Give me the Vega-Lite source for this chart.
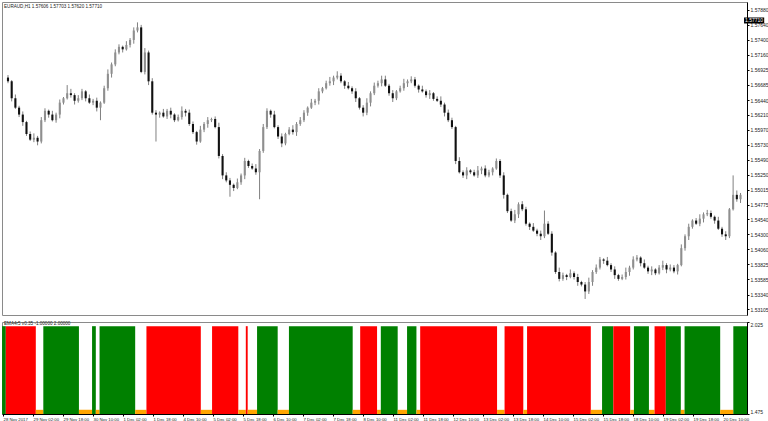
{
"$schema": "https://vega.github.io/schema/vega-lite/v6.json",
"padding": {"left": 1, "top": 1, "right": 0, "bottom": 0},
"background": "white",
"spacing": 4,
"config": {
  "view": {"stroke": "#8a8a8a", "strokeWidth": 1},
  "font": "Liberation Sans",
  "axis": {"labelFont": "Liberation Sans", "labelColor": "#222", "tickColor": "#000", "domainColor": "#000", "grid": false, "title": null, "tickSize": 2, "labelPadding": 1, "labelOverlap": false}
},
"datasets": {
"candles": [
{"i":0,"o":1.5680,"h":1.5684,"l":1.5671,"c":1.5674},
{"i":2,"o":1.5674,"h":1.5676,"l":1.5642,"c":1.5647},
{"i":4,"o":1.5647,"h":1.5653,"l":1.5630,"c":1.5632},
{"i":6,"o":1.5632,"h":1.5635,"l":1.5617,"c":1.5621},
{"i":8,"o":1.5621,"h":1.5626,"l":1.5603,"c":1.5609},
{"i":10,"o":1.5609,"h":1.5611,"l":1.5587,"c":1.5590},
{"i":12,"o":1.5590,"h":1.5594,"l":1.5579,"c":1.5581},
{"i":14,"o":1.5581,"h":1.5591,"l":1.5577,"c":1.5584},
{"i":16,"o":1.5584,"h":1.5587,"l":1.5572,"c":1.5578},
{"i":18,"o":1.5578,"h":1.5617,"l":1.5575,"c":1.5612},
{"i":20,"o":1.5612,"h":1.5631,"l":1.5609,"c":1.5627},
{"i":22,"o":1.5627,"h":1.5629,"l":1.5616,"c":1.5621},
{"i":24,"o":1.5621,"h":1.5627,"l":1.5610,"c":1.5612},
{"i":26,"o":1.5612,"h":1.5624,"l":1.5608,"c":1.5621},
{"i":28,"o":1.5621,"h":1.5645,"l":1.5615,"c":1.5640},
{"i":30,"o":1.5640,"h":1.5649,"l":1.5637,"c":1.5647},
{"i":32,"o":1.5647,"h":1.5668,"l":1.5645,"c":1.5655},
{"i":34,"o":1.5655,"h":1.5662,"l":1.5648,"c":1.5652},
{"i":36,"o":1.5652,"h":1.5655,"l":1.5637,"c":1.5643},
{"i":38,"o":1.5643,"h":1.5652,"l":1.5640,"c":1.5647},
{"i":40,"o":1.5647,"h":1.5662,"l":1.5644,"c":1.5658},
{"i":42,"o":1.5658,"h":1.5660,"l":1.5642,"c":1.5647},
{"i":44,"o":1.5647,"h":1.5653,"l":1.5638,"c":1.5640},
{"i":46,"o":1.5640,"h":1.5646,"l":1.5636,"c":1.5643},
{"i":48,"o":1.5643,"h":1.5648,"l":1.5626,"c":1.5632},
{"i":50,"o":1.5632,"h":1.5642,"l":1.5612,"c":1.5640},
{"i":52,"o":1.5640,"h":1.5667,"l":1.5638,"c":1.5663},
{"i":54,"o":1.5663,"h":1.5693,"l":1.5659,"c":1.5686},
{"i":56,"o":1.5686,"h":1.5704,"l":1.5680,"c":1.5701},
{"i":58,"o":1.5701,"h":1.5725,"l":1.5698,"c":1.5720},
{"i":60,"o":1.5720,"h":1.5733,"l":1.5717,"c":1.5729},
{"i":62,"o":1.5729,"h":1.5731,"l":1.5720,"c":1.5725},
{"i":64,"o":1.5725,"h":1.5738,"l":1.5723,"c":1.5732},
{"i":66,"o":1.5732,"h":1.5743,"l":1.5728,"c":1.5740},
{"i":68,"o":1.5740,"h":1.5760,"l":1.5734,"c":1.5755},
{"i":70,"o":1.5755,"h":1.5768,"l":1.5752,"c":1.5760},
{"i":72,"o":1.5760,"h":1.5764,"l":1.5687,"c":1.5689},
{"i":74,"o":1.5689,"h":1.5727,"l":1.5685,"c":1.5720},
{"i":76,"o":1.5720,"h":1.5723,"l":1.5668,"c":1.5674},
{"i":78,"o":1.5674,"h":1.5679,"l":1.5621,"c":1.5624},
{"i":80,"o":1.5624,"h":1.5628,"l":1.5578,"c":1.5621},
{"i":82,"o":1.5621,"h":1.5626,"l":1.5616,"c":1.5624},
{"i":84,"o":1.5624,"h":1.5630,"l":1.5616,"c":1.5618},
{"i":86,"o":1.5618,"h":1.5630,"l":1.5614,"c":1.5627},
{"i":88,"o":1.5627,"h":1.5632,"l":1.5615,"c":1.5621},
{"i":90,"o":1.5621,"h":1.5623,"l":1.5609,"c":1.5612},
{"i":92,"o":1.5612,"h":1.5621,"l":1.5610,"c":1.5617},
{"i":94,"o":1.5617,"h":1.5634,"l":1.5613,"c":1.5627},
{"i":96,"o":1.5627,"h":1.5630,"l":1.5618,"c":1.5624},
{"i":98,"o":1.5624,"h":1.5629,"l":1.5603,"c":1.5606},
{"i":100,"o":1.5606,"h":1.5610,"l":1.5590,"c":1.5593},
{"i":102,"o":1.5593,"h":1.5595,"l":1.5573,"c":1.5578},
{"i":104,"o":1.5578,"h":1.5603,"l":1.5576,"c":1.5597},
{"i":106,"o":1.5597,"h":1.5609,"l":1.5593,"c":1.5606},
{"i":108,"o":1.5606,"h":1.5617,"l":1.5600,"c":1.5612},
{"i":110,"o":1.5612,"h":1.5616,"l":1.5609,"c":1.5614},
{"i":112,"o":1.5614,"h":1.5618,"l":1.5599,"c":1.5601},
{"i":114,"o":1.5601,"h":1.5608,"l":1.5551,"c":1.5555},
{"i":116,"o":1.5555,"h":1.5558,"l":1.5518,"c":1.5524},
{"i":118,"o":1.5524,"h":1.5529,"l":1.5513,"c":1.5516},
{"i":120,"o":1.5516,"h":1.5520,"l":1.5490,"c":1.5509},
{"i":122,"o":1.5509,"h":1.5511,"l":1.5499,"c":1.5504},
{"i":124,"o":1.5504,"h":1.5519,"l":1.5502,"c":1.5513},
{"i":126,"o":1.5513,"h":1.5527,"l":1.5509,"c":1.5524},
{"i":128,"o":1.5524,"h":1.5552,"l":1.5518,"c":1.5547},
{"i":130,"o":1.5547,"h":1.5549,"l":1.5536,"c":1.5539},
{"i":132,"o":1.5539,"h":1.5543,"l":1.5533,"c":1.5535},
{"i":134,"o":1.5535,"h":1.5542,"l":1.5525,"c":1.5529},
{"i":136,"o":1.5529,"h":1.5566,"l":1.5486,"c":1.5563},
{"i":138,"o":1.5563,"h":1.5606,"l":1.5560,"c":1.5601},
{"i":140,"o":1.5601,"h":1.5631,"l":1.5598,"c":1.5627},
{"i":142,"o":1.5627,"h":1.5629,"l":1.5616,"c":1.5621},
{"i":144,"o":1.5621,"h":1.5627,"l":1.5599,"c":1.5601},
{"i":146,"o":1.5601,"h":1.5604,"l":1.5582,"c":1.5586},
{"i":148,"o":1.5586,"h":1.5591,"l":1.5569,"c":1.5575},
{"i":150,"o":1.5575,"h":1.5592,"l":1.5572,"c":1.5590},
{"i":152,"o":1.5590,"h":1.5601,"l":1.5588,"c":1.5597},
{"i":154,"o":1.5597,"h":1.5604,"l":1.5589,"c":1.5593},
{"i":156,"o":1.5593,"h":1.5609,"l":1.5587,"c":1.5606},
{"i":158,"o":1.5606,"h":1.5617,"l":1.5603,"c":1.5612},
{"i":160,"o":1.5612,"h":1.5628,"l":1.5609,"c":1.5624},
{"i":162,"o":1.5624,"h":1.5634,"l":1.5619,"c":1.5632},
{"i":164,"o":1.5632,"h":1.5646,"l":1.5630,"c":1.5640},
{"i":166,"o":1.5640,"h":1.5646,"l":1.5636,"c":1.5643},
{"i":168,"o":1.5643,"h":1.5663,"l":1.5637,"c":1.5658},
{"i":170,"o":1.5658,"h":1.5665,"l":1.5655,"c":1.5663},
{"i":172,"o":1.5663,"h":1.5675,"l":1.5661,"c":1.5671},
{"i":174,"o":1.5671,"h":1.5681,"l":1.5667,"c":1.5674},
{"i":176,"o":1.5674,"h":1.5683,"l":1.5668,"c":1.5680},
{"i":178,"o":1.5680,"h":1.5690,"l":1.5677,"c":1.5683},
{"i":180,"o":1.5683,"h":1.5687,"l":1.5671,"c":1.5674},
{"i":182,"o":1.5674,"h":1.5676,"l":1.5662,"c":1.5667},
{"i":184,"o":1.5667,"h":1.5673,"l":1.5661,"c":1.5663},
{"i":186,"o":1.5663,"h":1.5666,"l":1.5654,"c":1.5658},
{"i":188,"o":1.5658,"h":1.5663,"l":1.5641,"c":1.5647},
{"i":190,"o":1.5647,"h":1.5649,"l":1.5629,"c":1.5632},
{"i":192,"o":1.5632,"h":1.5636,"l":1.5618,"c":1.5624},
{"i":194,"o":1.5624,"h":1.5647,"l":1.5620,"c":1.5640},
{"i":196,"o":1.5640,"h":1.5658,"l":1.5634,"c":1.5655},
{"i":198,"o":1.5655,"h":1.5672,"l":1.5652,"c":1.5667},
{"i":200,"o":1.5667,"h":1.5675,"l":1.5664,"c":1.5671},
{"i":202,"o":1.5671,"h":1.5683,"l":1.5666,"c":1.5677},
{"i":204,"o":1.5677,"h":1.5683,"l":1.5665,"c":1.5667},
{"i":206,"o":1.5667,"h":1.5670,"l":1.5651,"c":1.5655},
{"i":208,"o":1.5655,"h":1.5660,"l":1.5641,"c":1.5647},
{"i":210,"o":1.5647,"h":1.5660,"l":1.5644,"c":1.5658},
{"i":212,"o":1.5658,"h":1.5667,"l":1.5656,"c":1.5663},
{"i":214,"o":1.5663,"h":1.5678,"l":1.5659,"c":1.5671},
{"i":216,"o":1.5671,"h":1.5677,"l":1.5665,"c":1.5674},
{"i":218,"o":1.5674,"h":1.5682,"l":1.5671,"c":1.5677},
{"i":220,"o":1.5677,"h":1.5681,"l":1.5664,"c":1.5667},
{"i":222,"o":1.5667,"h":1.5669,"l":1.5656,"c":1.5661},
{"i":224,"o":1.5661,"h":1.5667,"l":1.5656,"c":1.5658},
{"i":226,"o":1.5658,"h":1.5661,"l":1.5648,"c":1.5652},
{"i":228,"o":1.5652,"h":1.5660,"l":1.5646,"c":1.5655},
{"i":230,"o":1.5655,"h":1.5657,"l":1.5643,"c":1.5646},
{"i":232,"o":1.5646,"h":1.5650,"l":1.5641,"c":1.5643},
{"i":234,"o":1.5643,"h":1.5650,"l":1.5633,"c":1.5637},
{"i":236,"o":1.5637,"h":1.5640,"l":1.5618,"c":1.5624},
{"i":238,"o":1.5624,"h":1.5629,"l":1.5609,"c":1.5612},
{"i":240,"o":1.5612,"h":1.5616,"l":1.5598,"c":1.5601},
{"i":242,"o":1.5601,"h":1.5603,"l":1.5542,"c":1.5547},
{"i":244,"o":1.5547,"h":1.5553,"l":1.5527,"c":1.5529},
{"i":246,"o":1.5529,"h":1.5532,"l":1.5520,"c":1.5524},
{"i":248,"o":1.5524,"h":1.5537,"l":1.5518,"c":1.5532},
{"i":250,"o":1.5532,"h":1.5534,"l":1.5526,"c":1.5529},
{"i":252,"o":1.5529,"h":1.5533,"l":1.5522,"c":1.5524},
{"i":254,"o":1.5524,"h":1.5539,"l":1.5520,"c":1.5532},
{"i":256,"o":1.5532,"h":1.5538,"l":1.5526,"c":1.5535},
{"i":258,"o":1.5535,"h":1.5540,"l":1.5521,"c":1.5524},
{"i":260,"o":1.5524,"h":1.5533,"l":1.5521,"c":1.5529},
{"i":262,"o":1.5529,"h":1.5537,"l":1.5524,"c":1.5535},
{"i":264,"o":1.5535,"h":1.5551,"l":1.5533,"c":1.5547},
{"i":266,"o":1.5547,"h":1.5550,"l":1.5520,"c":1.5524},
{"i":268,"o":1.5524,"h":1.5529,"l":1.5487,"c":1.5493},
{"i":270,"o":1.5493,"h":1.5495,"l":1.5464,"c":1.5467},
{"i":272,"o":1.5467,"h":1.5471,"l":1.5450,"c":1.5452},
{"i":274,"o":1.5452,"h":1.5469,"l":1.5448,"c":1.5462},
{"i":276,"o":1.5462,"h":1.5481,"l":1.5456,"c":1.5478},
{"i":278,"o":1.5478,"h":1.5483,"l":1.5467,"c":1.5470},
{"i":280,"o":1.5470,"h":1.5474,"l":1.5444,"c":1.5447},
{"i":282,"o":1.5447,"h":1.5449,"l":1.5437,"c":1.5442},
{"i":284,"o":1.5442,"h":1.5448,"l":1.5434,"c":1.5436},
{"i":286,"o":1.5436,"h":1.5439,"l":1.5427,"c":1.5431},
{"i":288,"o":1.5431,"h":1.5436,"l":1.5421,"c":1.5427},
{"i":290,"o":1.5427,"h":1.5468,"l":1.5424,"c":1.5447},
{"i":292,"o":1.5447,"h":1.5451,"l":1.5429,"c":1.5431},
{"i":294,"o":1.5431,"h":1.5435,"l":1.5396,"c":1.5401},
{"i":296,"o":1.5401,"h":1.5403,"l":1.5367,"c":1.5370},
{"i":298,"o":1.5370,"h":1.5377,"l":1.5355,"c":1.5359},
{"i":300,"o":1.5359,"h":1.5369,"l":1.5356,"c":1.5365},
{"i":302,"o":1.5365,"h":1.5367,"l":1.5357,"c":1.5362},
{"i":304,"o":1.5362,"h":1.5374,"l":1.5360,"c":1.5368},
{"i":306,"o":1.5368,"h":1.5371,"l":1.5358,"c":1.5362},
{"i":308,"o":1.5362,"h":1.5367,"l":1.5348,"c":1.5354},
{"i":310,"o":1.5354,"h":1.5356,"l":1.5347,"c":1.5350},
{"i":312,"o":1.5350,"h":1.5354,"l":1.5327,"c":1.5339},
{"i":314,"o":1.5339,"h":1.5361,"l":1.5335,"c":1.5354},
{"i":316,"o":1.5354,"h":1.5373,"l":1.5348,"c":1.5370},
{"i":318,"o":1.5370,"h":1.5382,"l":1.5367,"c":1.5377},
{"i":320,"o":1.5377,"h":1.5394,"l":1.5374,"c":1.5390},
{"i":322,"o":1.5390,"h":1.5392,"l":1.5383,"c":1.5388},
{"i":324,"o":1.5388,"h":1.5394,"l":1.5379,"c":1.5381},
{"i":326,"o":1.5381,"h":1.5384,"l":1.5370,"c":1.5374},
{"i":328,"o":1.5374,"h":1.5379,"l":1.5359,"c":1.5365},
{"i":330,"o":1.5365,"h":1.5367,"l":1.5356,"c":1.5359},
{"i":332,"o":1.5359,"h":1.5366,"l":1.5357,"c":1.5362},
{"i":334,"o":1.5362,"h":1.5377,"l":1.5358,"c":1.5370},
{"i":336,"o":1.5370,"h":1.5380,"l":1.5364,"c":1.5377},
{"i":338,"o":1.5377,"h":1.5395,"l":1.5374,"c":1.5390},
{"i":340,"o":1.5390,"h":1.5397,"l":1.5387,"c":1.5393},
{"i":342,"o":1.5393,"h":1.5395,"l":1.5379,"c":1.5384},
{"i":344,"o":1.5384,"h":1.5390,"l":1.5375,"c":1.5377},
{"i":346,"o":1.5377,"h":1.5380,"l":1.5367,"c":1.5371},
{"i":348,"o":1.5371,"h":1.5379,"l":1.5365,"c":1.5374},
{"i":350,"o":1.5374,"h":1.5376,"l":1.5365,"c":1.5368},
{"i":352,"o":1.5368,"h":1.5381,"l":1.5366,"c":1.5377},
{"i":354,"o":1.5377,"h":1.5388,"l":1.5373,"c":1.5381},
{"i":356,"o":1.5381,"h":1.5384,"l":1.5368,"c":1.5374},
{"i":358,"o":1.5374,"h":1.5382,"l":1.5371,"c":1.5377},
{"i":360,"o":1.5377,"h":1.5381,"l":1.5368,"c":1.5371},
{"i":362,"o":1.5371,"h":1.5383,"l":1.5366,"c":1.5381},
{"i":364,"o":1.5381,"h":1.5414,"l":1.5379,"c":1.5408},
{"i":366,"o":1.5408,"h":1.5430,"l":1.5404,"c":1.5427},
{"i":368,"o":1.5427,"h":1.5447,"l":1.5421,"c":1.5442},
{"i":370,"o":1.5442,"h":1.5454,"l":1.5439,"c":1.5452},
{"i":372,"o":1.5452,"h":1.5456,"l":1.5445,"c":1.5447},
{"i":374,"o":1.5447,"h":1.5462,"l":1.5443,"c":1.5455},
{"i":376,"o":1.5455,"h":1.5465,"l":1.5449,"c":1.5462},
{"i":378,"o":1.5462,"h":1.5469,"l":1.5459,"c":1.5464},
{"i":380,"o":1.5464,"h":1.5468,"l":1.5455,"c":1.5458},
{"i":382,"o":1.5458,"h":1.5460,"l":1.5447,"c":1.5452},
{"i":384,"o":1.5452,"h":1.5458,"l":1.5437,"c":1.5439},
{"i":386,"o":1.5439,"h":1.5442,"l":1.5426,"c":1.5430},
{"i":388,"o":1.5430,"h":1.5435,"l":1.5421,"c":1.5427},
{"i":390,"o":1.5427,"h":1.5472,"l":1.5424,"c":1.5470},
{"i":392,"o":1.5470,"h":1.5524,"l":1.5468,"c":1.5493},
{"i":394,"o":1.5493,"h":1.5500,"l":1.5482,"c":1.5486},
{"i":396,"o":1.5486,"h":1.5496,"l":1.5480,"c":1.5493}
],
"hist": [
{"s":-0.5,"e":1.5,"k":"up","v":2},
{"s":1.5,"e":17.5,"k":"down","v":2},
{"s":17.5,"e":21.5,"k":"none","v":1.5},
{"s":21.5,"e":40.5,"k":"up","v":2},
{"s":40.5,"e":47.5,"k":"none","v":1.5},
{"s":47.5,"e":49.5,"k":"up","v":2},
{"s":49.5,"e":51.5,"k":"none","v":1.5},
{"s":51.5,"e":70.5,"k":"up","v":2},
{"s":70.5,"e":76.5,"k":"none","v":1.5},
{"s":76.5,"e":105.5,"k":"down","v":2},
{"s":105.5,"e":111.5,"k":"none","v":1.5},
{"s":111.5,"e":125.5,"k":"down","v":2},
{"s":125.5,"e":129.5,"k":"none","v":1.5},
{"s":129.5,"e":130.5,"k":"down","v":2},
{"s":130.5,"e":135.5,"k":"none","v":1.5},
{"s":135.5,"e":146.5,"k":"up","v":2},
{"s":146.5,"e":152.5,"k":"none","v":1.5},
{"s":152.5,"e":186.5,"k":"up","v":2},
{"s":186.5,"e":190.5,"k":"none","v":1.5},
{"s":190.5,"e":199.5,"k":"down","v":2},
{"s":199.5,"e":201.5,"k":"none","v":1.5},
{"s":201.5,"e":210.5,"k":"up","v":2},
{"s":210.5,"e":215.5,"k":"none","v":1.5},
{"s":215.5,"e":220.5,"k":"up","v":2},
{"s":220.5,"e":222.5,"k":"none","v":1.5},
{"s":222.5,"e":263.5,"k":"down","v":2},
{"s":263.5,"e":267.5,"k":"none","v":1.5},
{"s":267.5,"e":277.5,"k":"down","v":2},
{"s":277.5,"e":279.5,"k":"none","v":1.5},
{"s":279.5,"e":313.5,"k":"down","v":2},
{"s":313.5,"e":319.5,"k":"none","v":1.5},
{"s":319.5,"e":325.5,"k":"up","v":2},
{"s":325.5,"e":334.5,"k":"down","v":2},
{"s":334.5,"e":336.5,"k":"none","v":1.5},
{"s":336.5,"e":344.5,"k":"up","v":2},
{"s":344.5,"e":347.5,"k":"none","v":1.5},
{"s":347.5,"e":353.5,"k":"down","v":2},
{"s":353.5,"e":361.5,"k":"up","v":2},
{"s":361.5,"e":363.5,"k":"none","v":1.5},
{"s":363.5,"e":382.5,"k":"up","v":2},
{"s":382.5,"e":389.5,"k":"none","v":1.5},
{"s":389.5,"e":396.8,"k":"up","v":2}
],
"quote": [{"price": 1.5771, "label": "1.57710"}]
},
"vconcat": [
{
  "width": 745,
  "height": 313,
  "title": {"text": "EURAUD,H1  1.57606 1.57703 1.57620 1.57710", "anchor": "start", "frame": "group", "offset": -7, "fontSize": 4.6, "fontWeight": "normal", "color": "#222", "dx": 2, "font": "Liberation Sans"},
  "layer": [
    {
      "data": {"name": "candles"},
      "mark": {"type": "rule", "color": "#808080", "strokeWidth": 1},
      "encoding": {
        "x": {"field": "i", "type": "quantitative", "scale": {"domain": [-0.533, 396.8], "nice": false, "zero": false}, "axis": null},
        "y": {"field": "l", "type": "quantitative", "scale": {"domain": [1.53094, 1.57925], "nice": false, "zero": false},
              "axis": {"orient": "right", "tickCount": 40, "values": [1.5788, 1.5764, 1.574, 1.5716, 1.56925, 1.56685, 1.5644, 1.5621, 1.5597, 1.5573, 1.5549, 1.5525, 1.55015, 1.54775, 1.5454, 1.543, 1.5406, 1.53825, 1.53585, 1.5334, 1.53105], "format": ".5f", "labelFontSize": 5, "labelOverlap": false}},
        "y2": {"field": "h"}
      }
    },
    {
      "data": {"name": "candles"},
      "mark": {"type": "bar", "orient": "vertical", "size": 2.1},
      "encoding": {
        "x": {"field": "i", "type": "quantitative"},
        "y": {"field": "o", "type": "quantitative"},
        "y2": {"field": "c"},
        "color": {"condition": {"test": "datum.c < datum.o", "value": "#111111"}, "value": "#8f8f8f"}
      }
    },
    {
      "data": {"name": "quote"},
      "mark": {"type": "bar", "orient": "horizontal", "size": 6, "color": "#000", "clip": false},
      "encoding": {
        "y": {"field": "price", "type": "quantitative"},
        "x": {"datum": 397.9},
        "x2": {"datum": 408.8}
      }
    },
    {
      "data": {"name": "quote"},
      "mark": {"type": "text", "align": "left", "baseline": "middle", "color": "#fff", "fontSize": 5, "dx": 1},
      "encoding": {
        "y": {"field": "price", "type": "quantitative"},
        "x": {"datum": 397.9},
        "text": {"field": "label"}
      }
    }
  ]
},
{
  "width": 745,
  "height": 92,
  "title": {"text": "EMA4r5 v0.35 -1.00000 2.00000", "anchor": "start", "frame": "group", "offset": -4.5, "fontSize": 4.6, "fontWeight": "normal", "color": "#222", "dx": 2, "font": "Liberation Sans"},
  "data": {"name": "hist"},
  "mark": {"type": "rect"},
  "encoding": {
    "x": {"field": "s", "type": "quantitative", "scale": {"domain": [-0.533, 396.8], "nice": false, "zero": false},
          "axis": {"orient": "bottom", "tickCount": 40, "values": [0,16,32,48,64,80,96,112,128,144,160,176,192,208,224,240,256,272,288,304,320,336,352,368,384], "labelAlign": "left", "labelFontSize": 4.3, "labelOverlap": false, "labelExpr": "['28 Nov 2017','29 Nov 02:00','29 Nov 18:00','30 Nov 10:00','1 Dec 02:00','1 Dec 18:00','4 Dec 10:00','5 Dec 02:00','5 Dec 18:00','6 Dec 10:00','7 Dec 02:00','7 Dec 18:00','8 Dec 10:00','11 Dec 02:00','11 Dec 18:00','12 Dec 10:00','13 Dec 02:00','13 Dec 18:00','14 Dec 10:00','15 Dec 02:00','15 Dec 18:00','18 Dec 10:00','19 Dec 02:00','19 Dec 18:00','20 Dec 10:00'][round(datum.value/16)]"}},
    "x2": {"field": "e"},
    "y": {"field": "v", "type": "quantitative", "scale": {"domain": [1.475, 2.025], "nice": false, "zero": false},
          "axis": {"orient": "right", "values": [1.475, 2.025], "format": ".3f", "labelFontSize": 5, "labelFlush": true}},
    "y2": {"datum": 1.475},
    "color": {"field": "k", "type": "nominal", "scale": {"domain": ["up", "down", "none"], "range": ["#008000", "#ff0000", "#ffa500"]}, "legend": null}
  }
}
],
"resolve": {"scale": {"x": "independent", "y": "independent", "color": "independent"}}
}
